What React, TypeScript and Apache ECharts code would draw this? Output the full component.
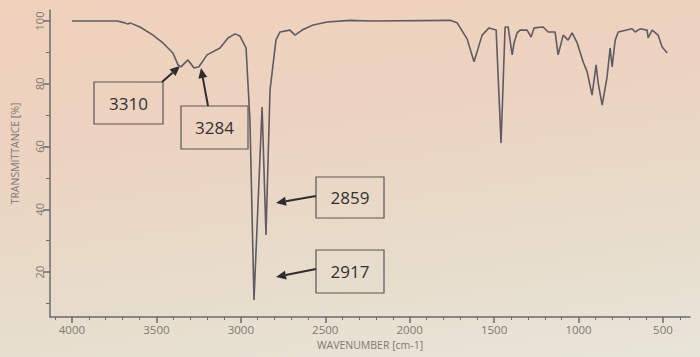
import React, { useEffect, useRef } from "react";
import * as echarts from "echarts";

// Spectrum: wavenumber (cm-1) and transmittance (%)
const wavenumbers = [
  4000, 3733, 3686, 3668, 3656, 3597, 3520, 3461, 3402, 3372, 3354, 3313, 3277, 3248, 3200, 3123, 3076, 3034, 3005, 2969,
  2946, 2922, 2874, 2851, 2827, 2792, 2768, 2709, 2679, 2637, 2572, 2489, 2353, 2235, 1761, 1719, 1660, 1619, 1571, 1530,
  1488, 1459, 1435, 1417, 1393, 1382, 1364, 1346, 1305, 1281, 1263, 1210, 1180, 1139, 1121, 1091, 1062, 1038, 1008, 973,
  949, 920, 896, 884, 860, 831, 813, 801, 783, 765, 683, 665, 635, 594, 588, 564, 529, 505, 475,
];
const transmittance = [
  100, 100, 99.4, 99.0, 99.4, 98.1, 95.5, 93.0, 89.8, 86.0, 85.4, 87.6, 85.0, 85.4, 89.2, 91.4, 94.6, 95.9, 95.2, 91.4,
  68.5, 11.1, 72.6, 31.8, 78.0, 93.9, 96.5, 97.1, 95.5, 97.1, 98.7, 99.7, 100.2, 100, 100.2, 99.4, 94.3, 87.0, 95.5, 97.8,
  97.1, 61.1, 98.1, 98.1, 89.2, 93.0, 96.2, 97.1, 97.1, 94.9, 97.8, 98.1, 96.5, 96.5, 89.2, 95.5, 93.9, 96.2, 93.0, 87.0,
  83.8, 76.4, 86.0, 80.3, 73.2, 82.2, 91.4, 85.4, 93.9, 96.5, 97.5, 96.5, 97.5, 97.1, 94.6, 97.1, 95.5, 91.7, 89.8,
];

const xMajorTicks = [4000, 3500, 3000, 2500, 2000, 1500, 1000, 500];
const xMinorTicks = [
  4100, 3900, 3800, 3700, 3600, 3400, 3300, 3200, 3100, 2900, 2800, 2700, 2600, 2400, 2300, 2200, 2100, 1900, 1800, 1700,
  1600, 1400, 1300, 1200, 1100, 900, 800, 700, 600, 400,
];
const yMajorTicks = [20, 40, 60, 80, 100];
const yMinorTicks = [10, 30, 50, 70, 90];

const peakLabels = ["3310", "3284", "2859", "2917"];

const X_MIN = 340;
const X_MAX = 4130;
const Y_MIN = 5.7;
const Y_MAX = 103.5;

const AXIS_COLOR = "#6c6a6e";
const LABEL_COLOR = "#7d7873";
const CURVE_COLOR = "#5f5a63";

function arrow(x1: number, y1: number, x2: number, y2: number) {
  const dx = x2 - x1;
  const dy = y2 - y1;
  const len = Math.sqrt(dx * dx + dy * dy);
  const ux = dx / len;
  const uy = dy / len;
  const hl = 10;
  const hw = 4.5;
  const bx = x2 - ux * hl;
  const by = y2 - uy * hl;
  return [
    {
      type: "line",
      shape: { x1, y1, x2: bx, y2: by },
      style: { stroke: "#2e2c2e", lineWidth: 2 },
      silent: true,
    },
    {
      type: "polygon",
      shape: {
        points: [
          [x2, y2],
          [bx - uy * hw, by + ux * hw],
          [bx + uy * hw, by - ux * hw],
        ],
      },
      style: { fill: "#2e2c2e" },
      silent: true,
    },
  ];
}

function box(x: number, y: number, w: number, h: number, text: string) {
  return [
    {
      type: "rect",
      shape: { x, y, width: w, height: h },
      style: { fill: "rgba(0,0,0,0)", stroke: "#5a5656", lineWidth: 1.2 },
      silent: true,
    },
    {
      type: "text",
      x: x + w / 2,
      y: y + h / 2,
      style: {
        text,
        fill: "#333033",
        font: "17px 'Open Sans', 'Liberation Sans', sans-serif",
        align: "center",
        verticalAlign: "middle",
      },
      silent: true,
    },
  ];
}

export default function App() {
  const ref = useRef<HTMLDivElement>(null);

  useEffect(() => {
    if (!ref.current) return;
    const chart = echarts.init(ref.current, undefined, { renderer: "svg" });
    const data = wavenumbers.map((w, i) => [w, transmittance[i]]);
    const axisLineStyle = { color: AXIS_COLOR, width: 1.5 };
    const plain = (v: number) => String(Math.round(v));

    chart.setOption({
      animation: false,
      backgroundColor: "transparent",
      grid: { left: 50, right: 10, top: 10, bottom: 40, containLabel: false },
      xAxis: [
        {
          type: "value",
          min: X_MIN,
          max: X_MAX,
          inverse: true,
          position: "bottom",
          axisLine: { show: true, lineStyle: axisLineStyle },
          axisTick: { show: true, customValues: xMajorTicks, length: 6, lineStyle: { color: AXIS_COLOR, width: 1.5 } },
          axisLabel: {
            customValues: xMajorTicks,
            formatter: plain,
            color: LABEL_COLOR,
            fontSize: 11.5,
            fontFamily: "'Open Sans', sans-serif",
            margin: 6,
          },
          splitLine: { show: false },
          name: "WAVENUMBER [cm-1]",
          nameLocation: "middle",
          nameGap: 22,
          nameTextStyle: { color: LABEL_COLOR, fontSize: 10.5, fontFamily: "'Open Sans', sans-serif" },
        },
        {
          type: "value",
          min: X_MIN,
          max: X_MAX,
          inverse: true,
          position: "bottom",
          axisLine: { show: false },
          axisTick: { show: true, customValues: xMinorTicks, length: 3, lineStyle: { color: AXIS_COLOR, width: 1 } },
          axisLabel: { show: false },
          splitLine: { show: false },
        },
      ],
      yAxis: [
        {
          type: "value",
          min: Y_MIN,
          max: Y_MAX,
          position: "left",
          axisLine: { show: true, lineStyle: axisLineStyle },
          axisTick: { show: true, customValues: yMajorTicks, length: 7, lineStyle: { color: AXIS_COLOR, width: 1.5 } },
          axisLabel: {
            customValues: yMajorTicks,
            formatter: plain,
            rotate: 90,
            color: LABEL_COLOR,
            fontSize: 11,
            fontFamily: "'Open Sans', sans-serif",
            margin: 5,
          },
          splitLine: { show: false },
          name: "TRANSMITTANCE [%]",
          nameLocation: "middle",
          nameGap: 30,
          nameRotate: 90,
          nameTextStyle: { color: LABEL_COLOR, fontSize: 10.5, fontFamily: "'Open Sans', sans-serif", padding: [0, 0, 0, 20] },
        },
        {
          type: "value",
          min: Y_MIN,
          max: Y_MAX,
          position: "left",
          axisLine: { show: false },
          axisTick: { show: true, customValues: yMinorTicks, length: 4, lineStyle: { color: AXIS_COLOR, width: 1 } },
          axisLabel: { show: false },
          splitLine: { show: false },
        },
      ],
      series: [
        {
          type: "line",
          xAxisIndex: 0,
          yAxisIndex: 0,
          data,
          showSymbol: false,
          symbol: "none",
          lineStyle: { color: CURVE_COLOR, width: 1.6 },
          silent: true,
        },
      ],
      graphic: [
        ...box(94, 82, 69, 42, peakLabels[0]),
        ...arrow(162, 82, 180, 66),
        ...box(181, 106, 67, 43, peakLabels[1]),
        ...arrow(208, 106, 201, 68),
        ...box(316, 177, 68, 41, peakLabels[2]),
        ...arrow(316, 196, 276, 203),
        ...box(316, 250, 68, 43, peakLabels[3]),
        ...arrow(316, 269, 276, 277),
      ],
    });

    return () => chart.dispose();
  }, []);

  return (
    <div
      style={{
        position: "fixed",
        left: 0,
        top: 0,
        width: 700,
        height: 357,
        background:
          "linear-gradient(172deg, #efd1bb 0%, #ecd3c0 35%, #e7dccb 70%, #e9e5d9 100%)",
      }}
    >
      <div ref={ref} style={{ width: 700, height: 357 }} />
    </div>
  );
}
